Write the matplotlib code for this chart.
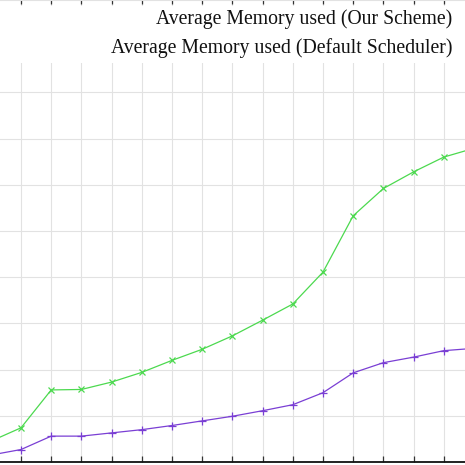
import matplotlib
matplotlib.use("Agg")
import matplotlib.pyplot as plt
from matplotlib.patches import Rectangle

# Data (x index positions, y in grid units)
x_vals = list(range(-1, 16))
our_scheme = [0.45, 0.74, 1.56, 1.57, 1.73, 1.94, 2.20, 2.44, 2.73, 3.07, 3.42,
              4.11, 5.33, 5.92, 6.28, 6.60, 6.79]
default_sched = [0.15, 0.27, 0.56, 0.56, 0.63, 0.70, 0.79, 0.89, 0.99, 1.11, 1.24,
                 1.50, 1.93, 2.15, 2.27, 2.41, 2.46]
labels = ["Average Memory used (Our Scheme)", "Average Memory used (Default Scheduler)"]

W = H = 465
fig = plt.figure(figsize=(4.65, 4.65), dpi=100)

# axes spans from px x=0..465, y from -2 (top) to 462 (bottom)
top_px, bot_px = -2, 462
ax = fig.add_axes([0, (H - bot_px) / H, 1, (bot_px - top_px) / H])
x0 = -21 / 30.2
x1 = (465 - 21) / 30.2
ax.set_xlim(x0, x1)
ax.set_ylim(0, (bot_px - top_px) / 46.2)

green = '#4cd94f'
purple = '#7a3fd4'
ax.plot(x_vals, our_scheme, color=green, lw=0.9, marker='x', ms=5, mew=0.9, zorder=3)
ax.plot(x_vals, default_sched, color=purple, lw=0.9, marker='+', ms=6, mew=0.9, zorder=3)

ax.set_xticks(range(0, 15))
ax.set_yticks(range(0, 11))
ax.grid(True, color='#e2e2e2', lw=0.8)
ax.set_axisbelow(True)
ax.tick_params(axis='x', which='both', direction='in', length=4, width=0.9,
               color='#333333', top=True, bottom=True, labelbottom=False, labeltop=False)
ax.tick_params(axis='y', left=False, right=False, labelleft=False)
for s in ['left', 'right', 'top']:
    ax.spines[s].set_visible(False)
ax.spines['bottom'].set_linewidth(1.3)
ax.spines['bottom'].set_color('#111111')

# white legend area
rect = Rectangle((0, (H - 63) / H), 1, (63 - 6) / H, transform=fig.transFigure,
                 facecolor='white', edgecolor='none', zorder=2, clip_on=False)
ax.add_patch(rect)

for i, (lab, ypx) in enumerate(zip(labels, [19, 48])):
    fig.text(452 / W, (H - ypx) / H, lab, ha='right', va='center',
             family='Liberation Serif', fontsize=14.2, color='#111111', zorder=5)

fig.savefig('out.png', dpi=100)
